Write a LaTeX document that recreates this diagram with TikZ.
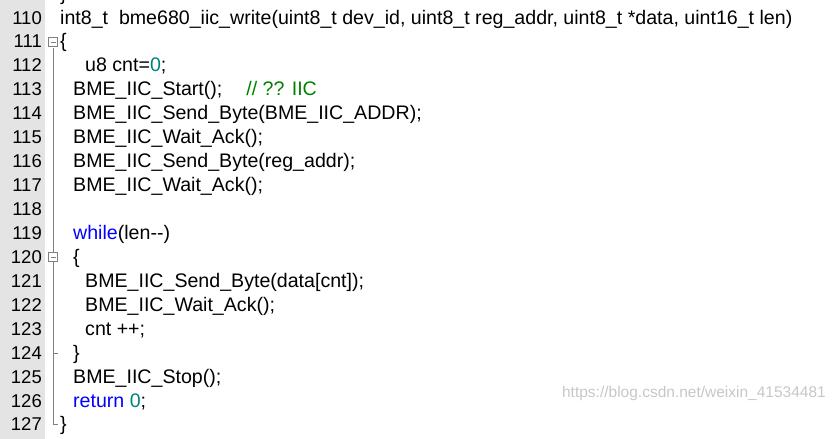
\documentclass[tikz,border=0pt]{standalone}
\usepackage{fontspec}
\setmainfont{Liberation Sans}
\definecolor{kw}{RGB}{0,0,255}
\definecolor{num}{RGB}{0,128,128}
\definecolor{cmt}{RGB}{0,128,0}
\definecolor{gut}{RGB}{228,228,228}
\definecolor{fold}{RGB}{128,128,128}
\begin{document}
\begin{tikzpicture}[x=1pt,y=-1pt,
  code/.style={anchor=base west,inner sep=0pt,font=\fontsize{19.6}{19.6}\selectfont},
  lnum/.style={anchor=base east,inner sep=0pt,font=\fontsize{18.5}{18.5}\selectfont}]
\useasboundingbox (0,0) rectangle (833,439);
\begin{scope}
\clip (0,0) rectangle (833,439);
\fill[gut] (0,0) rectangle (45,439);
\node[code] (l109) at (60,0.1) {\}};
\foreach \n [count=\i from 0] in {110,...,127}{
  \node[lnum] (n\n) at (42,{24+23.94*\i}) {\n};
}
\node[code] (c110) at (60,24) {int8\_t\ \ bme680\_iic\_write(uint8\_t dev\_id, uint8\_t reg\_addr, uint8\_t *data, uint16\_t len)};
\node[code] (c111) at (60,{24+23.94*1}) {\{};
\node[code] (c112) at (85,{24+23.94*2}) {u8 cnt=\textcolor{num}{0};};
\node[code] (c113) at (73,{24+23.94*3}) {BME\_IIC\_Start();\hspace{24pt}\textcolor{cmt}{// ?? IIC}};
\node[code] (c114) at (73,{24+23.94*4}) {BME\_IIC\_Send\_Byte(BME\_IIC\_ADDR);};
\node[code] (c115) at (73,{24+23.94*5}) {BME\_IIC\_Wait\_Ack();};
\node[code] (c116) at (73,{24+23.94*6}) {BME\_IIC\_Send\_Byte(reg\_addr);};
\node[code] (c117) at (73,{24+23.94*7}) {BME\_IIC\_Wait\_Ack();};
\node[code] (c119) at (73,{24+23.94*9}) {\textcolor{kw}{while}(len{-}{-})};
\node[code] (c120) at (73,{24+23.94*10}) {\{};
\node[code] (c121) at (85,{24+23.94*11}) {BME\_IIC\_Send\_Byte(data[cnt]);};
\node[code] (c122) at (85,{24+23.94*12}) {BME\_IIC\_Wait\_Ack();};
\node[code] (c123) at (85,{24+23.94*13}) {cnt ++;};
\node[code] (c124) at (73,{24+23.94*14}) {\}};
\node[code] (c125) at (73,{24+23.94*15}) {BME\_IIC\_Stop();};
\node[code] (c126) at (73,{24+23.94*16}) {\textcolor{kw}{return} \textcolor{num}{0};};
\node[code] (c127) at (60,{24+23.94*17}) {\}};
% fold markers
\draw[fold,line width=0.8pt] (53,48) -- (53,424) -- (58,424);
\draw[fold,line width=0.8pt] (53,353) -- (58,353);
\foreach \y in {42,257}{
  \fill[white] (48.5,{\y-4.5}) rectangle (57.5,{\y+4.5});
  \draw[fold,line width=0.8pt] (48.5,{\y-4.5}) rectangle (57.5,{\y+4.5});
  \draw[fold,line width=0.8pt] (50.5,\y) -- (55.5,\y);
}
\node[anchor=base east,inner sep=0pt,text=black!22,font=\fontsize{15.5}{15.5}\selectfont] (wm) at (826,397) {https://blog.csdn.net/weixin\_41534481};
\end{scope}
\end{tikzpicture}
\end{document}
